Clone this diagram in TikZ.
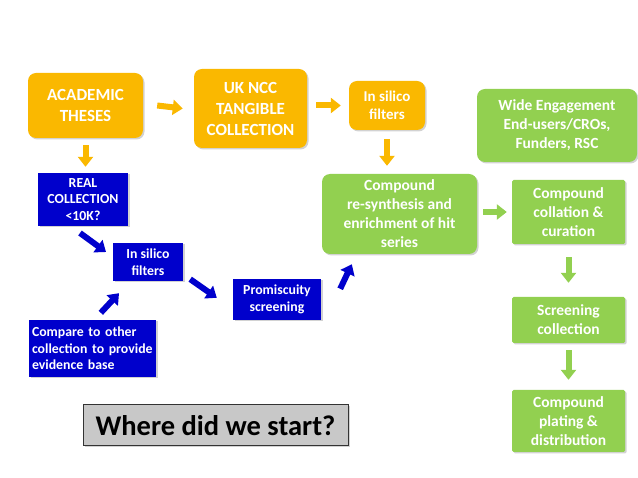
\documentclass[tikz,border=0pt]{standalone}
\usepackage{fontspec}
\setmainfont{Carlito}
\usetikzlibrary{arrows.meta,shadows}
\definecolor{org}{RGB}{250,184,0}
\definecolor{grn}{RGB}{146,208,80}
\definecolor{blu}{RGB}{0,0,204}
\definecolor{gry}{RGB}{200,200,200}
\tikzset{
 base/.style={text=white,font=\bfseries,align=center,inner sep=0pt,drop shadow={opacity=0.35,shadow xshift=1.5pt,shadow yshift=-1.5pt}},
 obox/.style={base,fill=org,rounded corners=8pt,font=\bfseries\fontsize{17}{21}\selectfont},
 gbox/.style={base,fill=grn,rounded corners=8pt,font=\bfseries\fontsize{15.5}{19}\selectfont},
 gsq/.style={base,fill=grn,rounded corners=1.5pt,font=\bfseries\fontsize{15.5}{19}\selectfont},
 bbox/.style={base,fill=blu,font=\bfseries\fontsize{13.8}{16.5}\selectfont},
 blk/.style={line width=6pt,-{Triangle[length=10pt,width=15pt]}},
}
\begin{document}
\begin{tikzpicture}[x=1pt,y=-1pt]
\useasboundingbox (0,0) rectangle (638,478);
\fill[white] (0,0) rectangle (638,478);
\node[obox,minimum width=115,minimum height=65] (acad) at (85.5,105.5) {ACADEMIC\\THESES};
\node[obox,minimum width=113,minimum height=79] (uk) at (250.5,108.5) {UK NCC\\TANGIBLE\\COLLECTION};
\node[obox,minimum width=76,minimum height=49,font=\bfseries\fontsize{15}{18}\selectfont] (sil) at (387,105.5) {In silico\\filters};
\node[gbox,minimum width=160,minimum height=73] (wide) at (557,125.5) {Wide Engagement\\End-users/CROs,\\Funders, RSC};
\node[bbox,minimum width=90,minimum height=53] (real) at (83,199.5) {REAL\\COLLECTION\\<10K?};
\node[bbox,minimum width=70,minimum height=38] (bsil) at (148,262) {In silico\\filters};
\node[bbox,minimum width=88,minimum height=41] (prom) at (277,299.5) {Promiscuity\\screening};
\node[bbox,minimum width=127,minimum height=57,align=left,text width=121] (comp) at (92.5,348.5) {Compare to other\\collection to provide\\evidence base};
\node[gbox,minimum width=155,minimum height=80] (resyn) at (399.5,214) {Compound\\re-synthesis and\\enrichment of hit\\series};
\node[gsq,minimum width=113,minimum height=64] (coll) at (568.5,212) {Compound\\collation \&\\curation};
\node[gsq,minimum width=113,minimum height=46] (scr) at (568.5,320) {Screening\\collection};
\node[gsq,minimum width=113,minimum height=62] (plat) at (568.5,421) {Compound\\plating \&\\distribution};
\node[draw=black!80,line width=1pt,fill=gry,minimum width=265,minimum height=41,inner sep=0pt,font=\bfseries\fontsize{28.5}{30}\selectfont,drop shadow={opacity=0.35,shadow xshift=1.5pt,shadow yshift=-1.5pt}] (where) at (215.5,425.5) {Where did we start?};
\coordinate (a1) at (80,233);
\coordinate (a2) at (106,252);
\draw[blk,org] ([xshift=14]acad.east) -- ([xshift=-11]uk.west);
\draw[blk,org] ([xshift=9]uk.east|-sil) -- ([xshift=-8]sil.west);
\draw[blk,org] ([yshift=-7]acad.south) -- ([yshift=6]acad.south|-real.north);
\draw[blk,org] ([yshift=-9]sil.south) -- ([yshift=8]sil.south|-resyn.north);
\draw[blk,grn] ([xshift=6]resyn.east|-coll) -- ([xshift=-5]coll.west);
\draw[blk,grn] ([yshift=-13]coll.south) -- ([yshift=14]scr.north);
\draw[blk,grn] ([yshift=-7]scr.south) -- ([yshift=10]plat.north);
\draw[blk,blu] (a1) -- (a2);
\draw[blk,blu] ([xshift=7,yshift=2]bsil.south east) -- ([xshift=-16,yshift=-19]prom.north west);
\draw[blk,blu] ([xshift=72,yshift=7]comp.north west) -- ([xshift=-29,yshift=-12]bsil.south);
\draw[blk,blu] ([xshift=19,yshift=-10]prom.north east) -- ([xshift=30,yshift=-10]resyn.south west);
\end{tikzpicture}
\end{document}
